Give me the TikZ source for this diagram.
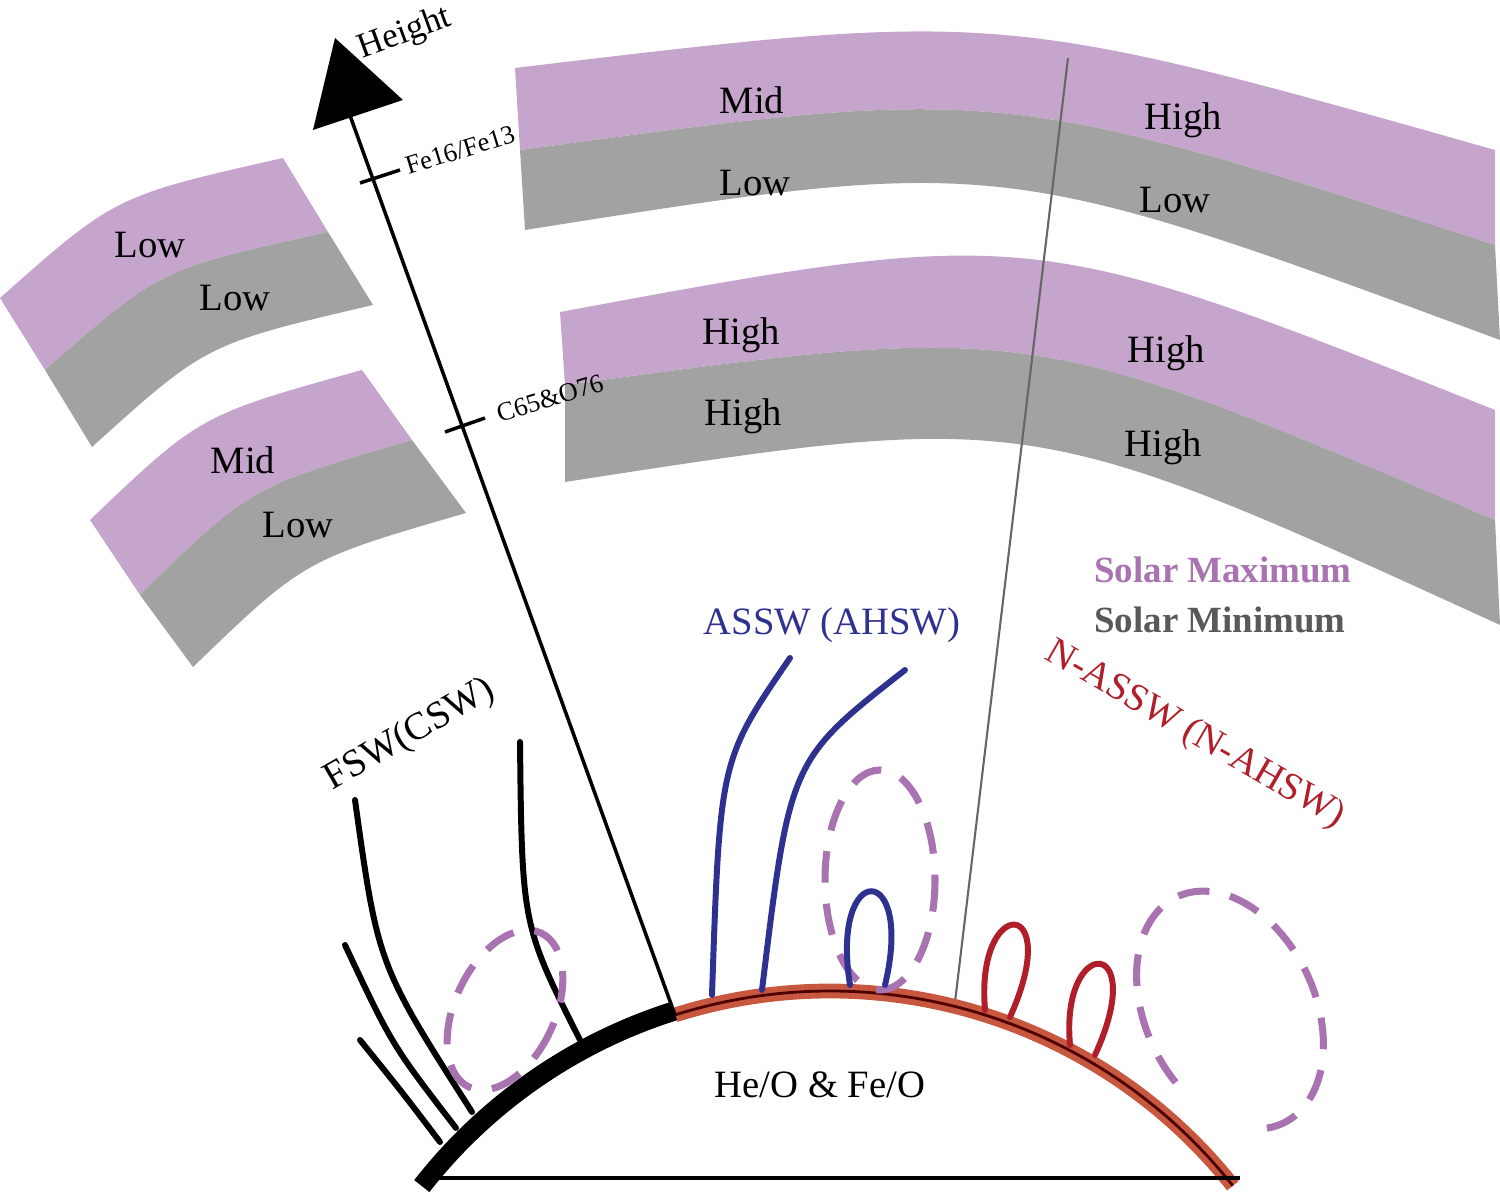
\documentclass[tikz,border=0pt]{standalone}
\usepackage{fontspec}
\setmainfont{Liberation Serif}
\usetikzlibrary{calc}
\definecolor{pur}{HTML}{C6A5CC}
\definecolor{gry}{HTML}{A2A2A2}
\definecolor{dpur}{HTML}{A873B0}
\definecolor{blu}{HTML}{2E3190}
\definecolor{rd}{HTML}{B01E2A}
\definecolor{org}{HTML}{C8573F}
\tikzset{
 lbl/.style={font=\fontsize{11}{13}\selectfont},
 field/.style={line width=1.7pt,line cap=round},
 dsh/.style={draw=dpur,line width=2pt,dash pattern=on 9pt off 6pt},
}
\begin{document}
\begin{tikzpicture}[x=0.01cm,y=-0.01cm]
\useasboundingbox (0,0) rectangle (1500,1192);
% top right band
\fill[pur] (515,68) .. controls (1000,10) .. (1495,150) -- (1495,245) .. controls (1000,85) .. (520,150) -- cycle;
\fill[gry] (520,150) .. controls (1000,85) .. (1495,245) -- (1500,340) .. controls (1000,155) .. (525,230) -- cycle;
% second right band
\fill[pur] (560,312) .. controls (1030,225) .. (1495,410) -- (1495,520) .. controls (1030,322) .. (565,385) -- cycle;
\fill[gry] (565,385) .. controls (1030,322) .. (1495,520) -- (1500,625) .. controls (1030,410) .. (565,482) -- cycle;
% left bands
\fill[pur] (0,298) .. controls (115,196) .. (283,158) -- (328,232) .. controls (160,269) .. (45,370) -- cycle;
\fill[gry] (45,370) .. controls (160,269) .. (328,232) -- (373,305) .. controls (206,344) .. (92,447) -- cycle;
\fill[pur] (90,520) .. controls (200,415) .. (362,370) -- (412,440) .. controls (250,487) .. (140,595) -- cycle;
\fill[gry] (140,595) .. controls (250,487) .. (412,440) -- (466,513) .. controls (304,560) .. (193,667) -- cycle;
% band labels
\node[lbl] (l1) at (150,245) {Low};
\node[lbl] (l2) at (235,298) {Low};
\node[lbl] (l3) at (243,460) {Mid};
\node[lbl] (l4) at (298,525) {Low};
\node[lbl] (r1) at (752,100) {Mid};
\node[lbl] (r2) at (1183,120) {High};
\node[lbl] (r3) at (755,183) {Low};
\node[lbl] (r4) at (1175,200) {Low};
\node[lbl] (r5) at (741,335) {High};
\node[lbl] (r6) at (1166,353) {High};
\node[lbl] (r7) at (743,416) {High};
\node[lbl] (r8) at (1163,447) {High};
% thin gray line
\coordinate (g1) at (1068,58); \coordinate (g2) at (955,1002);
\draw[line width=0.6pt,black!60] (g1) -- (g2);
% sun
\coordinate (c) at (830,1505);
\draw[org,line width=4.2pt] ($(c)+(-107.5:514)$) arc[start angle=-107.5,end angle=-38.4,radius=514];
\draw[black!70!red,line width=0.8pt] ($(c)+(-107.5:514)$) arc[start angle=-107.5,end angle=-38.4,radius=514];
\draw[line width=5.5pt] ($(c)+(-142:518)$) arc[start angle=-142,end angle=-107.5,radius=518];
\coordinate (b1) at (432,1178); \coordinate (b2) at (1240,1178);
\draw[line width=1pt] (b1) -- (b2);
\node[lbl] (he) at (820,1085) {He/O \& Fe/O};
% axis
\coordinate (a0) at (675,1015); \coordinate (a1) at (348,110);
\draw[line width=1pt] (a0) -- (a1);
\fill (335,38) -- (313,130) -- (403,100) -- cycle;
\node[font=\fontsize{10}{12}\selectfont,rotate=20] (ht) at (405,34) {Height};
\coordinate (t1a) at (360,183); \coordinate (t1b) at (400,170);
\draw[line width=1pt] (t1a) -- (t1b);
\coordinate (t2a) at (445,432); \coordinate (t2b) at (485,418);
\draw[line width=1pt] (t2a) -- (t2b);
\node[font=\fontsize{7.5}{9}\selectfont,rotate=17] (fe) at (460,150) {Fe16/Fe13};
\node[font=\fontsize{7.5}{9}\selectfont,rotate=17] (co) at (550,398) {C65\&O76};
% black field lines
\draw[field] (355,800) .. controls (378,965) .. (472,1112);
\draw[field] (345,945) .. controls (392,1045) .. (456,1128);
\draw[field] (360,1040) .. controls (402,1092) .. (440,1142);
\draw[field] (520,742) .. controls (522,925) .. (580,1040);
\node[font=\fontsize{11}{13}\selectfont,rotate=30] (fsw) at (410,735) {FSW(CSW)};
% dashed purple
\draw[dsh,rotate around={-25:(505,1010)}] (505,1010) ellipse[x radius=50,y radius=85];
\draw[dsh] (880,880) ellipse[x radius=55,y radius=110];
\draw[dsh,rotate around={25:(1230,1010)}] ($(1230,1010)+(-200:85 and 125)$) arc[start angle=-200,end angle=110,x radius=85,y radius=125];
% blue
\draw[field,blu] (790,658) .. controls (720,760) .. (712,995);
\draw[field,blu] (905,670) .. controls (790,760) .. (762,990);
\draw[field,blu] (850,985) .. controls (830,860) and (915,860) .. (885,985);
\node[font=\fontsize{11}{13}\selectfont,text=blu] (as) at (832,625) {ASSW (AHSW)};
% red
\draw[field,rd] (985,1010) .. controls (975,895) and (1065,895) .. (1010,1017);
\draw[field,rd] (1070,1045) .. controls (1060,935) and (1150,935) .. (1095,1055);
\node[font=\fontsize{11}{13}\selectfont,text=rd,rotate=-30] (na) at (1195,735) {N-ASSW (N-AHSW)};
% legend
\node[font=\bfseries\fontsize{10.5}{13}\selectfont,text=dpur] (smax) at (1223,570) {Solar Maximum};
\node[font=\bfseries\fontsize{10.5}{13}\selectfont,text=black!65] (smin) at (1220,620) {Solar Minimum};
\end{tikzpicture}
\end{document}
